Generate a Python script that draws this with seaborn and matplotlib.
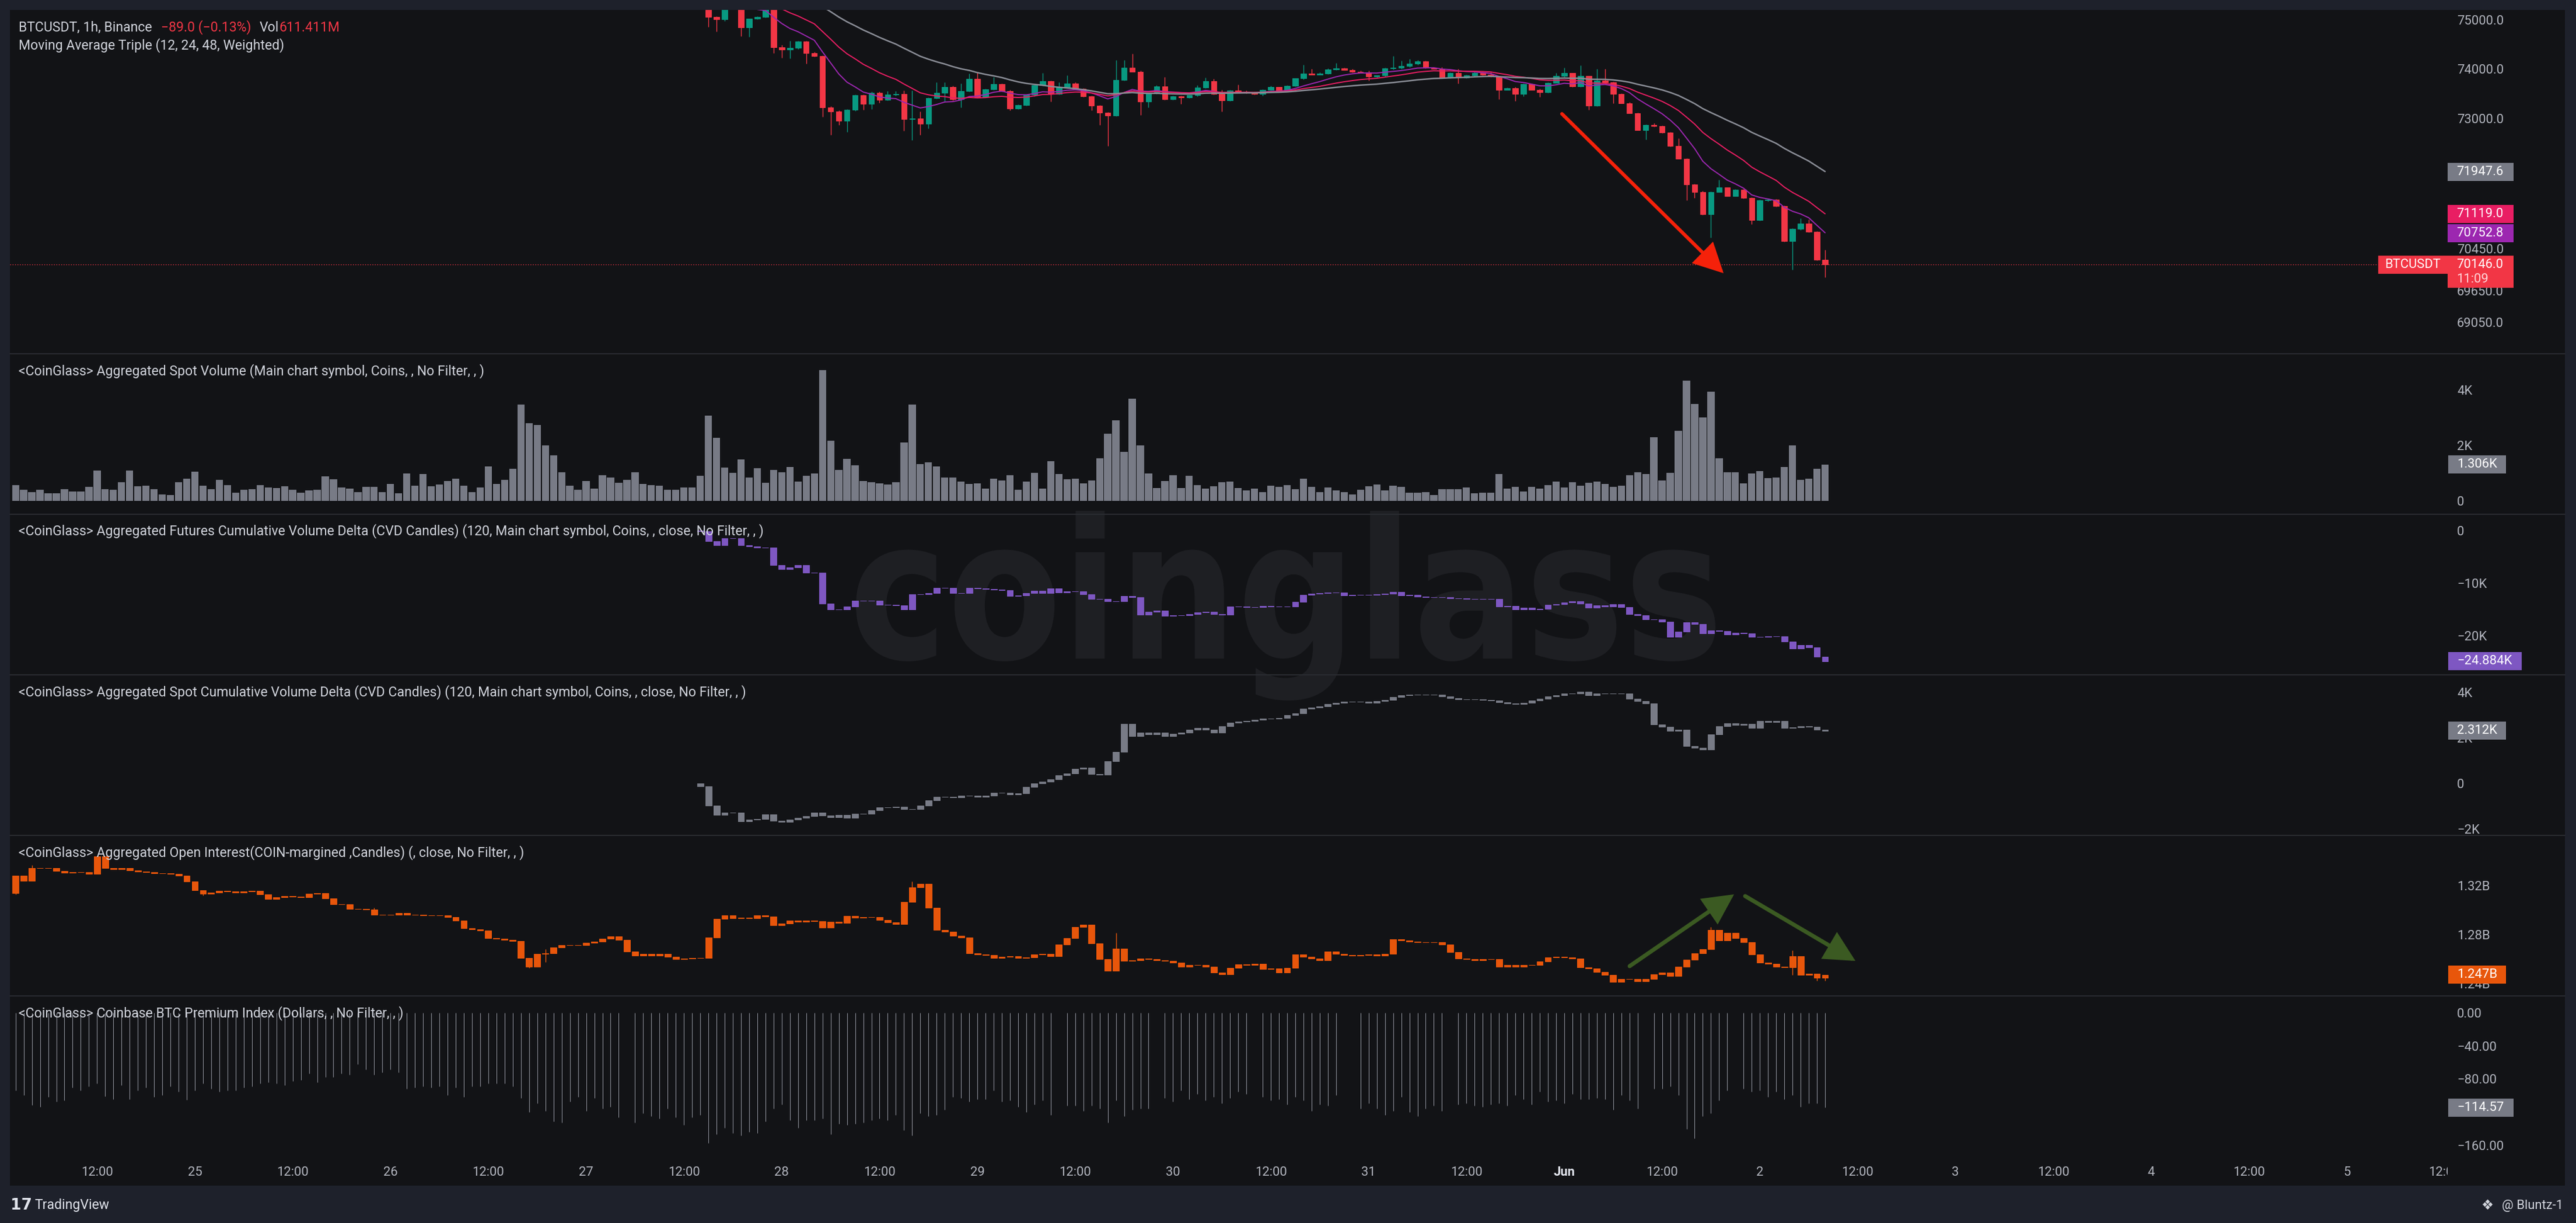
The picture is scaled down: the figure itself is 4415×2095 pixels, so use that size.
import numpy as np
import pandas as pd
import matplotlib
matplotlib.use("Agg")
import matplotlib.pyplot as plt
import seaborn as sns
from matplotlib.patches import Rectangle, PathPatch, FancyArrowPatch
from matplotlib.lines import Line2D
from matplotlib.textpath import TextPath
from matplotlib.font_manager import FontProperties
from matplotlib.ticker import NullLocator
import matplotlib.transforms as mtransforms

# ====================== DATA (hours counted from 25 May 00:00) ======================
BAR_START = -22      # first hourly bar (24 May 02:00)
CVD_START = 62       # first CVD candle
PRICE_START = 63     # first price candle drawn
PRE_START = 15       # earlier closes (above visible range, used only by the moving averages)

pre_close = [76850, 76920, 76780, 76700, 76810, 76900, 76950, 76870, 76760, 76820,
             76880, 76790, 76700, 76760, 76840, 76900, 76860, 76780, 76720, 76800,
             76850, 76780, 76700, 76650, 76720,
             76300, 75900, 76100, 76250, 76180, 76050, 76120, 76200, 76080,
             75900, 75820, 75880, 75900, 75750, 75680, 75700, 75600, 75660, 75720,
             75850, 75800, 75820, 75760]

price_close = [75056, 75012, 75250, 75310, 74843, 75016, 75052, 75230, 74442, 74386,
               74430, 74550, 74313, 74253, 73221, 73136, 72954, 73174, 73473, 73291,
               73519, 73372, 73484, 73496, 72989, 73000, 72897, 73415, 73519, 73628,
               73391, 73554, 73798, 73438, 73585, 73690, 73554, 73198, 73275, 73477,
               73674, 73752, 73488, 73628, 73705, 73593, 73442, 73256, 73116, 73058,
               73775, 74016, 73942, 73337, 73504, 73647, 73384, 73450, 73419, 73465,
               73624, 73756, 73492, 73360, 73566, 73535, 73515, 73488, 73574, 73628,
               73566, 73659, 73806, 73903, 73884, 73903, 73992, 74008, 73977, 73942,
               73930, 73845, 73864, 74008, 74020, 74052, 74100, 74153, 74020, 74004,
               73822, 73915, 73818, 73872, 73915, 73876, 73845, 73570, 73613, 73498,
               73689, 73578, 73525, 73720, 73853, 73911, 73644, 73853, 73253, 73764,
               73733, 73489, 73311, 73111, 72773, 72878, 72847, 72725, 72455, 72207,
               71701, 71553, 71113, 71553, 71636, 71475, 71597, 71431, 71004, 71387,
               71400, 71278, 70594, 70834, 70938, 70777, 70240, 70146]

price_high = [75780, 75068, 75300, 75420, 75330, 75024, 75064, 75260, 75270, 74482,
              74562, 74562, 74562, 74341, 74269, 73244, 73167, 73186, 73481, 73481,
              73535, 73535, 73554, 73554, 73558, 73566, 73147, 73419, 73729, 73729,
              73651, 73702, 73903, 73922, 73593, 73833, 73698, 73574, 73283, 73485,
              73682, 73915, 73767, 73729, 73872, 73729, 73605, 73457, 73271, 73132,
              74181, 74181, 74301, 73957, 73512, 73667, 73830, 73457, 73457, 73473,
              73667, 73826, 73795, 73574, 73574, 73682, 73562, 73543, 73581, 73651,
              73636, 73667, 73814, 74080, 74000, 73922, 74008, 74112, 74016, 73996,
              73961, 73957, 73872, 74016, 74261, 74161, 74201, 74181, 74161, 74028,
              74028, 73922, 74000, 73880, 73942, 73938, 73942, 73853, 73622, 73631,
              73698, 73698, 73596, 73729, 73911, 74022, 73920, 74067, 73862, 74000,
              74000, 73742, 73507, 73329, 73120, 72887, 72913, 72865, 72738, 72608,
              72215, 71710, 71570, 71562, 71788, 71636, 71605, 71605, 71448, 71396,
              71409, 71409, 71287, 70842, 71038, 71017, 70791, 70429]

price_low = [74851, 74763, 74972, 75230, 74663, 74651, 75004, 75044, 74313, 74221,
             74209, 74402, 74108, 74241, 73039, 72681, 72878, 72734, 73155, 73178,
             73186, 73322, 73364, 73457, 72753, 72574, 72673, 72802, 73399, 73341,
             73360, 73225, 73535, 73419, 73426, 73574, 73543, 73167, 73186, 73260,
             73450, 73659, 73341, 73481, 73612, 73585, 73434, 73167, 72878, 72453,
             73050, 73760, 73934, 73070, 73225, 73488, 73372, 73372, 73295, 73411,
             73450, 73605, 73485, 73140, 73353, 73527, 73508, 73481, 73457, 73558,
             73558, 73547, 73643, 73791, 73876, 73876, 73888, 73969, 73969, 73930,
             73922, 73767, 73826, 73837, 73992, 74000, 74036, 74084, 74012, 73996,
             73814, 73814, 73709, 73810, 73849, 73870, 73837, 73391, 73569, 73356,
             73444, 73569, 73431, 73516, 73711, 73836, 73636, 73636, 73178, 73245,
             73724, 73311, 73302, 73102, 72765, 72586, 72839, 72717, 72446, 72198,
             71387, 71431, 71104, 70668, 71544, 71466, 71466, 71422, 70929, 70995,
             71365, 71269, 70585, 70050, 70812, 70769, 70231, 69903]

volume_k = [0.57, 0.39, 0.32, 0.39, 0.28, 0.28, 0.43, 0.34, 0.34, 0.50,
            1.10, 0.43, 0.41, 0.68, 1.10, 0.53, 0.55, 0.43, 0.24, 0.21,
            0.68, 0.81, 1.05, 0.55, 0.43, 0.76, 0.57, 0.30, 0.39, 0.43,
            0.57, 0.48, 0.46, 0.53, 0.39, 0.30, 0.37, 0.39, 0.89, 0.78,
            0.48, 0.45, 0.32, 0.50, 0.50, 0.32, 0.61, 0.28, 0.99, 0.55,
            0.96, 0.53, 0.59, 0.72, 0.81, 0.55, 0.32, 0.48, 1.25, 0.61,
            0.76, 1.16, 3.48, 2.80, 2.74, 1.99, 1.64, 1.03, 0.55, 0.41,
            0.72, 0.45, 0.93, 0.85, 0.66, 0.76, 1.03, 0.61, 0.57, 0.55,
            0.41, 0.41, 0.48, 0.48, 0.91, 3.07, 2.28, 1.20, 1.01, 1.49,
            0.85, 1.18, 0.66, 1.12, 1.03, 1.22, 0.70, 0.91, 0.99, 4.71,
            2.17, 1.12, 1.51, 1.29, 0.72, 0.68, 0.63, 0.59, 0.68, 2.10,
            3.48, 1.33, 1.40,
            1.25, 0.85, 0.85, 0.70, 0.61, 0.63, 0.44, 0.81, 0.74, 0.93,
            0.41, 0.70, 1.01, 0.44, 1.44, 0.96, 0.78, 0.81, 0.63, 0.74,
            1.54, 2.43, 2.91, 1.77, 3.68, 2.01, 0.99, 0.46, 0.72, 0.93,
            0.46, 0.91, 0.57, 0.44, 0.53, 0.68, 0.70, 0.46, 0.37, 0.44,
            0.32, 0.55, 0.50, 0.57, 0.43, 0.81, 0.50, 0.32, 0.48, 0.37,
            0.32, 0.24, 0.41, 0.53, 0.59, 0.37, 0.55, 0.50, 0.30, 0.30,
            0.32, 0.21, 0.43, 0.43, 0.43, 0.48, 0.28, 0.30, 0.30, 0.96,
            0.44, 0.50, 0.34, 0.50, 0.44, 0.57, 0.70, 0.48, 0.68, 0.55,
            0.66, 0.70, 0.61, 0.50, 0.55, 0.93, 1.03, 0.96, 2.30, 0.74,
            1.01, 2.53, 4.34, 3.50, 3.02, 3.94, 1.54, 1.03, 1.03, 0.63,
            0.99, 1.07, 0.83, 0.85, 1.22, 2.01, 0.76, 0.81, 1.16, 1.306]

fut_cvd_k = [-0.14, -1.95, -2.80, -1.50, -1.50, -2.80, -2.97, -3.20, -3.20, -6.60,
             -7.28, -7.05, -6.60, -7.96, -7.96, -13.85, -14.99, -14.99, -14.42, -13.29,
             -13.29, -13.29,
             -14.14, -14.14, -14.25, -14.99, -12.16, -12.16, -11.87, -10.91, -10.91, -11.87,
             -11.87, -10.91, -11.02, -11.13, -11.25, -11.30, -12.44, -12.33, -11.87, -11.48,
             -11.87, -11.02, -11.76, -11.59, -11.59, -12.16, -13.01, -13.01, -13.40, -13.40,
             -12.44, -12.72, -15.95, -15.39, -15.27, -16.24, -16.12, -16.12, -15.84, -15.56,
             -15.44, -15.84, -15.95, -14.42, -14.42, -14.59, -14.59, -14.31, -14.42, -14.42,
             -14.42, -13.57, -12.27, -12.04, -11.93, -11.76, -11.76, -12.33, -12.27, -12.27,
             -12.27, -12.16, -12.04, -11.70, -12.33, -12.27, -12.50, -12.61, -12.72, -12.72,
             -12.89, -12.89, -13.01, -13.01, -13.01, -13.01, -14.42, -14.31, -14.99, -14.65,
             -14.99, -14.88, -14.14, -13.97, -13.69, -13.46, -13.86, -14.71, -14.25, -14.42,
             -14.03, -14.54, -15.84, -16.12, -16.86, -16.86, -17.37, -20.26, -19.24, -17.43,
             -17.82, -19.53, -18.96, -19.13, -19.81, -19.41, -19.53, -20.26, -20.26, -20.09,
             -20.09, -21.11, -22.47, -21.79, -22.25, -23.95, -24.884]

spot_cvd_k = [-0.13, -0.97, -1.38, -1.28, -1.28, -1.67, -1.60, -1.57, -1.36, -1.64,
              -1.69, -1.60, -1.51, -1.44, -1.28, -1.41, -1.49, -1.38, -1.51, -1.33,
              -1.33, -1.18,
              -1.06, -1.06, -1.02, -1.12, -1.12, -0.96, -0.73, -0.60, -0.60, -0.62,
              -0.53, -0.53, -0.60, -0.53, -0.40, -0.40, -0.49, -0.44, -0.16, -0.01,
              0.08, 0.19, 0.36, 0.45, 0.65, 0.69, 0.42, 0.38, 0.97, 1.39,
              2.61, 2.08, 2.22, 2.15, 2.22, 2.08, 2.18, 2.24, 2.35, 2.44,
              2.35, 2.22, 2.52, 2.67, 2.73, 2.75, 2.80, 2.84, 2.84, 2.87,
              3.00, 3.09, 3.29, 3.33, 3.38, 3.48, 3.55, 3.58, 3.58, 3.58,
              3.55, 3.62, 3.68, 3.79, 3.88, 3.89, 3.89, 3.89, 3.89, 3.83,
              3.75, 3.69, 3.69, 3.69, 3.67, 3.64, 3.56, 3.51, 3.48, 3.55,
              3.64, 3.72, 3.83, 3.88, 3.96, 3.96, 4.03, 3.88, 3.96, 3.96,
              3.96, 3.96, 3.72, 3.62, 3.51, 2.58, 2.48, 2.32, 2.37, 1.63,
              1.56, 1.50, 2.15, 2.52, 2.65, 2.57, 2.61, 2.44, 2.74, 2.70,
              2.75, 2.44, 2.46, 2.52, 2.48, 2.35, 2.312]

oi_first_open = 1.3139
oi_close_b = [1.3282, 1.3236, 1.3341, 1.3341, 1.3345, 1.3320, 1.3303, 1.3308, 1.3308, 1.3293,
              1.3436, 1.3345, 1.3331, 1.3345, 1.3324, 1.3314, 1.3308, 1.3301, 1.3301, 1.3293,
              1.3280, 1.3234, 1.3164, 1.3132, 1.3145, 1.3158, 1.3151, 1.3145, 1.3151, 1.3156,
              1.3128, 1.3092, 1.3107, 1.3113, 1.3109, 1.3105, 1.3132, 1.3139, 1.3097, 1.3046,
              1.3046, 1.3008, 1.3008, 1.3004, 1.2964, 1.2964, 1.2964, 1.2976, 1.2962, 1.2962,
              1.2955, 1.2959, 1.2959, 1.2943, 1.2913, 1.2854, 1.2843, 1.2833, 1.2770, 1.2765,
              1.2759, 1.2748, 1.2611, 1.2537, 1.2643, 1.2649, 1.2696, 1.2713, 1.2713, 1.2715,
              1.2734, 1.2744, 1.2765, 1.2786, 1.2755, 1.2660, 1.2628, 1.2643, 1.2628, 1.2643,
              1.2618, 1.2601, 1.2607, 1.2609, 1.2609, 1.2776, 1.2928, 1.2955, 1.2934, 1.2938,
              1.2934, 1.2959, 1.2949, 1.2875, 1.2892, 1.2913, 1.2907, 1.2913, 1.2909, 1.2858,
              1.2907, 1.2896, 1.2953, 1.2938, 1.2943, 1.2945,
              1.2921, 1.2902, 1.2888, 1.3065, 1.3187, 1.3213, 1.3019, 1.2839, 1.2824, 1.2791,
              1.2774, 1.2649, 1.2639, 1.2635, 1.2611, 1.2618, 1.2624, 1.2611, 1.2616, 1.2639,
              1.2643, 1.2624, 1.2717, 1.2770, 1.2862, 1.2879, 1.2729, 1.2601, 1.2506, 1.2685,
              1.2584, 1.2592, 1.2607, 1.2599, 1.2592, 1.2584, 1.2571, 1.2537, 1.2554, 1.2550,
              1.2537, 1.2489, 1.2474, 1.2529, 1.2556, 1.2552, 1.2563, 1.2520, 1.2523, 1.2491,
              1.2527, 1.2637, 1.2618, 1.2605, 1.2592, 1.2660, 1.2643, 1.2632, 1.2628, 1.2632,
              1.2639, 1.2630, 1.2643, 1.2761, 1.2753, 1.2744, 1.2738, 1.2738, 1.2738, 1.2719,
              1.2656, 1.2603, 1.2599, 1.2592, 1.2599, 1.2601, 1.2540, 1.2554, 1.2540, 1.2552,
              1.2552, 1.2580, 1.2613, 1.2618, 1.2613, 1.2605, 1.2535, 1.2523, 1.2495, 1.2470,
              1.2413, 1.2438, 1.2436, 1.2421, 1.2438, 1.2476, 1.2489, 1.2464, 1.2537, 1.2596,
              1.2649, 1.2683, 1.2839, 1.2751, 1.2812, 1.2772, 1.2740, 1.2637, 1.2573, 1.2563,
              1.2540, 1.2533, 1.2624, 1.2470, 1.2480, 1.2449, 1.2472]

# notable open-interest wicks: hour -> (low, high)
oi_wicks = {-22: (1.3128, 1.3282), -20: (1.3236, 1.3367), 1: (1.3118, 1.3164),
            22: (1.2964, 1.3019), 41: (1.2527, 1.2611), 43: (1.2576, 1.2681),
            88: (1.3065, 1.3234), 113: (1.2565, 1.2814), 186: (1.2683, 1.2860),
            196: (1.2470, 1.2670), 199: (1.2423, 1.2480), 200: (1.2423, 1.2472)}

nan = float("nan")
premium_usd = [-93.6, -99.8, -111.4, -113.9, -101.4, -107.6, -106.1, -90.4, -93.6, -88.9,
               -85.7, -100.7, -104.5, -87.3, -104.5, -93.6, -90.4, -101.4, -99.8, -88.9,
               -95.1, -105.4, -93.6, -85.7, -92.0, -95.1, -93.6, -93.6, -90.4, -88.9,
               -85.7, -84.2, -85.7, -87.3, -82.6, -81.0, -73.2, -84.2, -77.9, -77.9,
               -73.2, -74.8, -62.3, -68.5, -74.8, -71.7, -68.5, -71.7, -92.0, -90.4,
               -88.9, -90.4, -88.9, -99.8, -90.4, -101.4, -88.9, -88.9, -85.7, -85.7,
               -85.7, -88.9, -102.9, -120.1, -109.2, -118.6, -131.1, -132.6, -107.6, -101.4,
               -118.6, -102.9, -115.4, -113.9, -126.4, nan, -132.6, -121.7, -124.8, -128.0,
               -115.4, -126.4, -135.8, -126.4, -123.2, -157.7, -146.7, -138.9, -145.1, -148.3,
               -143.6, -145.1, -131.1, -115.4, -110.7, -129.5, -138.9, -129.5, -129.5, -128.0,
               -146.7, -134.2, -135.8, -134.2, -132.6, -129.5,
               -128.0, -129.5, -123.2, -142.0, -148.3, -121.7, -124.8, -123.2, -117.0, -101.4,
               -102.9, -107.6, -104.5, -104.5, -93.6, -107.6, -106.1, -113.9, -120.1, -110.7,
               -106.1, -123.2, nan, -112.3, -112.3, -118.6, -112.3, -115.4, -132.6, -106.1,
               -124.8, -117.0, -115.4, -115.4, nan, -102.9, -107.6, -93.6, -104.5, -98.2,
               -106.1, -101.4, -109.2, -102.9, -95.1, -98.2, nan, -101.4, -106.1, -104.5,
               -110.7, -101.4, -106.1, -118.6, -110.7, -112.3, -99.8, nan, nan, -115.4,
               -109.2, -115.4, -123.2, -118.6, -101.4, -120.1, -124.8, -115.4, -112.3, -118.6,
               nan, -110.7, -109.2, -112.3, -113.9, -110.7, -109.2, -112.3, -99.8, -104.5,
               -110.7, -95.1, -107.6, -106.1, -109.2, -98.2, -104.5, -104.5, -102.9, -104.5,
               -117.0, -99.8, -106.1, -115.4, nan, -92.0, -92.0, -88.9, -99.8, -140.5,
               -151.4, -124.8, -121.7, -106.1, -93.6, nan, -92.0, -95.1, -93.6, -101.4,
               -95.1, -104.5, -99.8, -113.9, -109.2, -109.2, -114.57]

ma_lengths = [12, 24, 48]
ma_last_labels = [70752.8, 71119.0, 71947.6]
last_price = 70146.0
bar_countdown = "11:09"

time_tick_hours = [-12, 0, 12, 24, 36, 48, 60, 72, 84, 96, 108, 120, 132, 144, 156,
                   168, 180, 192, 204, 216, 228, 240, 252, 264, 276]
time_tick_labels = ["12:00", "25", "12:00", "26", "12:00", "27", "12:00", "28", "12:00",
                    "29", "12:00", "30", "12:00", "31", "12:00", "Jun", "12:00", "2",
                    "12:00", "3", "12:00", "4", "12:00", "5", "12:00"]

price_ticks = [75000, 74000, 73000, 70450, 69650, 69050]
vol_ticks, vol_tick_labels = [0, 2, 4], ["0", "2K", "4K"]
fcvd_ticks, fcvd_tick_labels = [0, -10, -20], ["0", "\u221210K", "\u221220K"]
scvd_ticks, scvd_tick_labels = [4, 2, 0, -2], ["4K", "2K", "0", "\u22122K"]
oi_ticks, oi_tick_labels = [1.32, 1.28, 1.24], ["1.32B", "1.28B", "1.24B"]
prem_ticks = [0, -40, -80, -160]
prem_tick_labels = ["0.00", "\u221240.00", "\u221280.00", "\u2212160.00"]

# ====================== STYLE ======================
sns.set_theme(style="dark")
plt.rcParams['font.family'] = ['Roboto', 'DejaVu Sans']
plt.rcParams['axes.unicode_minus'] = True

W, H = 4415, 2095
FRAME = '#1E212B'
BG = '#121316'
TXT = '#D1D4DC'
TICK = '#B2B5BE'
UP, DOWN = '#089981', '#F23645'
GRAY = '#787B86'
PURPLE = '#7E57C2'
ORANGE = '#E8560B'
FS = 15.8      # price-scale / time-scale labels
FT = 16.6      # legend titles

def fx(px):
    return px / W

def fy(py):
    return 1 - py / H

fig = plt.figure(figsize=(W / 100, H / 100), dpi=100, facecolor=FRAME)

# chart background + watermark
fig.add_artist(Rectangle((fx(17), fy(2031)), fx(4396 - 17), (2031 - 17) / H,
                         transform=fig.transFigure, fc=BG, ec='none', zorder=-10))
tp = TextPath((0, 0), "coinglass", size=100, prop=FontProperties(family='DejaVu Sans', weight='bold'))
bb = tp.get_extents()
wm_x0, wm_x1, wm_top, wm_bot = 1467, 2940, 875, 1200
aff = (mtransforms.Affine2D().translate(-bb.x0, -bb.y0)
       .scale((wm_x1 - wm_x0) / bb.width / W, (wm_bot - wm_top) / bb.height / H)
       .translate(fx(wm_x0), fy(wm_bot)))
fig.add_artist(PathPatch(tp, transform=aff + fig.transFigure, fc='#1E1F23', ec='none', zorder=-5))

X0, X1 = 17, 4195
h_left = (X0 - 334) / 13.97
h_right = (X1 - 334) / 13.97
panes = [(17, 606), (606, 881), (881, 1156), (1156, 1431), (1431, 1706), (1706, 1985)]
axes = []
for top, bot in panes:
    a = fig.add_axes([fx(X0), fy(bot), fx(X1 - X0), (bot - top) / H])
    a.set_facecolor('none')
    for s in a.spines.values():
        s.set_visible(False)
    a.grid(False)
    a.set_xlim(h_left, h_right)
    a.yaxis.tick_right()
    a.tick_params(axis='y', length=0, pad=11.5, labelsize=FS, labelcolor=TICK)
    a.tick_params(axis='x', length=0, bottom=False, labelbottom=False)
    axes.append(a)
ax_p, ax_v, ax_f, ax_s, ax_o, ax_q = axes

h_bars = np.arange(BAR_START, BAR_START + len(volume_k))
h_cvd = np.arange(CVD_START, CVD_START + len(fut_cvd_k))
h_price = np.arange(PRICE_START, PRICE_START + len(price_close))
h_all = np.arange(PRE_START, PRE_START + len(pre_close) + len(price_close))


def candles(ax, x, o, c, hi=None, lo=None, up=None, down=None, width=0.7, wick_lw=1.0):
    o = np.asarray(o, float)
    c = np.asarray(c, float)
    cols = np.where(c >= o, up, down)
    if hi is not None:
        hi = np.maximum(np.asarray(hi, float), np.maximum(o, c))
        lo = np.minimum(np.asarray(lo, float), np.minimum(o, c))
        ax.vlines(x, lo, hi, colors=cols, lw=wick_lw, zorder=2)
    ax.bar(x, c - o, bottom=o, width=width, color=cols, edgecolor=cols, linewidth=0.7, zorder=3)


# ---- main price pane ----
ax_p.set_yscale('log')
ax_p.set_ylim(68457, 75200)
all_close = np.array(pre_close + price_close, float)
p_open = np.concatenate([[pre_close[-1]], price_close[:-1]])
candles(ax_p, h_price, p_open, price_close, price_high, price_low, UP, DOWN, width=0.68, wick_lw=1.0)
ma_colors = ['#9C27B0', '#E91E63', '#8A8D96']
ma_widths = [1.4, 1.4, 1.8]
for n, col, lw in zip(ma_lengths, ma_colors, ma_widths):
    w = np.arange(1, n + 1)
    vals = np.full(len(all_close), np.nan)
    for i in range(n - 1, len(all_close)):
        vals[i] = np.dot(all_close[i - n + 1:i + 1], w) / w.sum()
    m = h_all >= PRICE_START - 1
    df = pd.DataFrame({'h': h_all[m], 'ma': vals[m]})
    sns.lineplot(data=df, x='h', y='ma', ax=ax_p, color=col, linewidth=lw, legend=False, zorder=4)
ax_p.axhline(last_price, color=DOWN, lw=1.0, ls=(0, (1, 2)), zorder=1)
ax_p.set_yticks(price_ticks)
ax_p.set_yticklabels([f"{t:.1f}" for t in price_ticks])
ax_p.yaxis.set_minor_locator(NullLocator())

# ---- volume ----
ax_v.bar(h_bars, volume_k, width=0.88, color=GRAY, linewidth=0, zorder=2)
ax_v.set_ylim(-0.484, 5.305)
ax_v.set_yticks(vol_ticks)
ax_v.set_yticklabels(vol_tick_labels)

# ---- futures CVD ----
f_open = np.concatenate([[0.0], fut_cvd_k[:-1]])
candles(ax_f, h_cvd, f_open, fut_cvd_k, up=PURPLE, down=PURPLE, width=0.78)
ax_f.set_ylim(-27.44, 3.11)
ax_f.set_yticks(fcvd_ticks)
ax_f.set_yticklabels(fcvd_tick_labels)

# ---- spot CVD ----
s_open = np.concatenate([[0.0], spot_cvd_k[:-1]])
candles(ax_s, h_cvd, s_open, spot_cvd_k, up=GRAY, down=GRAY, width=0.78)
ax_s.set_ylim(-2.28, 4.77)
ax_s.set_yticks(scvd_ticks)
ax_s.set_yticklabels(scvd_tick_labels)

# ---- open interest ----
o_open = np.concatenate([[oi_first_open], oi_close_b[:-1]])
wk_h = list(oi_wicks.keys())
ax_o.vlines(wk_h, [oi_wicks[k][0] for k in wk_h], [oi_wicks[k][1] for k in wk_h],
            colors=ORANGE, lw=1.0, zorder=2)
candles(ax_o, h_bars, o_open, oi_close_b, up=ORANGE, down=ORANGE, width=0.78)
ax_o.set_ylim(1.23, 1.36095)
ax_o.set_yticks(oi_ticks)
ax_o.set_yticklabels(oi_tick_labels)

# ---- coinbase premium ----
prem = np.asarray(premium_usd, float)
ok = ~np.isnan(prem)
ax_q.vlines(h_bars[ok], 0, prem[ok], colors='#8C8F98', lw=0.8, zorder=2)
ax_q.set_ylim(-176.4, 20.46)
ax_q.set_yticks(prem_ticks)
ax_q.set_yticklabels(prem_tick_labels)
ax_q.set_xticks(time_tick_hours)
ax_q.set_xticklabels(time_tick_labels)
ax_q.tick_params(axis='x', labelbottom=True, labelsize=FS, labelcolor=TICK, pad=9)
for lab in ax_q.get_xticklabels():
    if lab.get_text() == "Jun":
        lab.set_color('#E0E3EB')
        lab.set_fontweight('bold')

for a in axes:
    a.set_xlabel('')
    a.set_ylabel('')

# cut the last time label at the price scale
fig.add_artist(Rectangle((fx(4195), fy(2031)), fx(4396 - 4195), (2031 - 1986) / H,
                         transform=fig.transFigure, fc=BG, ec='none', zorder=5))

# pane separators
for yy in [606, 881, 1156, 1431, 1706]:
    fig.add_artist(Line2D([fx(17), fx(4396)], [fy(yy), fy(yy)], transform=fig.transFigure,
                          color='#2A2C31', lw=1.4, zorder=6))


def val_py(ax, v):
    return H - ax.transData.transform((0, v))[1]


def label_box(x0, x1, yc, text, fc, tc='white', h=31):
    fig.add_artist(Rectangle((fx(x0), fy(yc + h / 2)), fx(x1 - x0), h / H,
                             transform=fig.transFigure, fc=fc, ec='none', zorder=10))
    fig.text(fx(x0 + 15), fy(yc), text, ha='left', va='center', color=tc, fontsize=FS, zorder=11)


# MA value labels (gray 48, pink 24, purple 12)
for v, col in zip(ma_last_labels[::-1], ['#787B86', '#E91E63', '#9C27B0']):
    label_box(4195, 4308, val_py(ax_p, v), f"{v:.1f}", col)

# last price box with countdown
yp = val_py(ax_p, last_price)
fig.add_artist(Rectangle((fx(4195), fy(yp + 40)), fx(113), 55 / H, transform=fig.transFigure,
                         fc=DOWN, ec='none', zorder=10))
fig.text(fx(4210), fy(yp), f"{last_price:.1f}", ha='left', va='center', color='white', fontsize=FS, zorder=11)
fig.text(fx(4210), fy(yp + 25), bar_countdown, ha='left', va='center', color='#FFD6DA', fontsize=FS, zorder=11)
fig.add_artist(Rectangle((fx(4076), fy(yp + 16)), fx(119), 31 / H, transform=fig.transFigure,
                         fc=DOWN, ec='none', zorder=10))
fig.text(fx(4087), fy(yp), "BTCUSDT", ha='left', va='center', color='white', fontsize=FS, zorder=11)

label_box(4196, 4295, val_py(ax_v, volume_k[-1]), f"{volume_k[-1]:.3f}K", GRAY)
label_box(4196, 4322, val_py(ax_f, fut_cvd_k[-1]), f"\u2212{abs(fut_cvd_k[-1]):.3f}K", PURPLE)
label_box(4196, 4295, val_py(ax_s, spot_cvd_k[-1]), f"{spot_cvd_k[-1]:.3f}K", GRAY)
label_box(4196, 4295, val_py(ax_o, oi_close_b[-1]), f"{oi_close_b[-1]:.3f}B", ORANGE)
label_box(4196, 4308, val_py(ax_q, premium_usd[-1]), f"\u2212{abs(premium_usd[-1]):.2f}", GRAY)

# legends / titles
def ftext(x, y, s, color=TXT, **kw):
    fig.text(fx(x), fy(y), s, ha='left', va='center', color=color, fontsize=FT, zorder=12, **kw)

ftext(32, 47, "BTCUSDT, 1h, Binance")
ftext(276, 47, "\u221289.0 (\u22120.13%)", color=DOWN)
ftext(445, 47, "Vol")
ftext(478, 47, "611.411M", color=DOWN)
ftext(32, 78, "Moving Average Triple (12, 24, 48, Weighted)")
ftext(32, 636, "<CoinGlass> Aggregated Spot Volume (Main chart symbol, Coins, , No Filter, , )")
ftext(32, 910, "<CoinGlass> Aggregated Futures Cumulative Volume Delta (CVD Candles) (120, Main chart symbol, Coins, , close, No Filter, , )")
ftext(32, 1186, "<CoinGlass> Aggregated Spot Cumulative Volume Delta (CVD Candles) (120, Main chart symbol, Coins, , close, No Filter, , )")
ftext(32, 1461, "<CoinGlass> Aggregated Open Interest(COIN-margined ,Candles) (, close, No Filter, , )")
ftext(32, 1736, "<CoinGlass> Coinbase BTC Premium Index (Dollars, , No Filter, , )")

# annotation arrows
def arrow(p0, p1, col, lw):
    fig.add_artist(FancyArrowPatch((fx(p0[0]), fy(p0[1])), (fx(p1[0]), fy(p1[1])),
                                   transform=fig.transFigure,
                                   arrowstyle='-|>,head_length=0.55,head_width=0.28',
                                   mutation_scale=54, lw=lw, color=col,
                                   shrinkA=0, shrinkB=0, zorder=9, joinstyle='miter'))

arrow((2677, 195), (2954, 468), '#F5210A', 4.3)
arrow((2793, 1655), (2972, 1532), '#3B5A22', 5.0)
arrow((2991, 1535), (3180, 1646), '#3B5A22', 5.0)

# footer
fig.text(fx(18), fy(2065), "17", ha='left', va='center', color='#E0E3EB', fontsize=19,
         fontweight='heavy', family=['DejaVu Sans'])
fig.text(fx(60), fy(2065), "TradingView", ha='left', va='center', color='#E0E3EB', fontsize=FT)
fig.text(fx(4252), fy(2065), "\u2756", ha='left', va='center', color='#D1D4DC', fontsize=17,
         family=['DejaVu Sans'])
fig.text(fx(4288), fy(2065), "@ Bluntz-1", ha='left', va='center', color='#D1D4DC', fontsize=FS)

fig.savefig("out.png", dpi=100, facecolor=fig.get_facecolor())
